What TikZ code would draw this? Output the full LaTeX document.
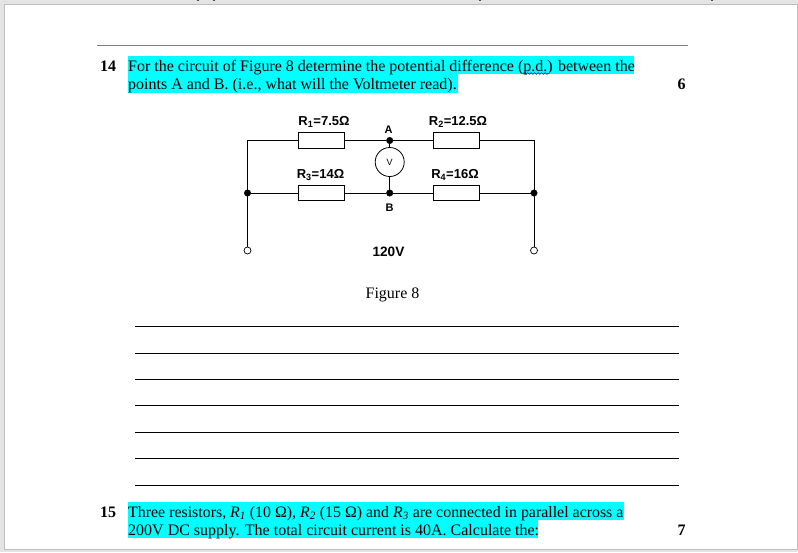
\documentclass[tikz,border=0pt]{standalone}
\usepackage{fontspec}
\setmainfont{Liberation Serif}
\newfontfamily\circfont{Liberation Sans}
\usetikzlibrary{decorations.pathmorphing}
\definecolor{hl}{HTML}{00FFFF}
\definecolor{pagegrey}{HTML}{E4E4E4}
\definecolor{edgegrey}{HTML}{BEBEBE}
\tikzset{
  wire/.style={draw=black,line width=0.9pt},
  resistor/.style={draw=black,line width=0.9pt,fill=white,minimum width=46pt,minimum height=15.5pt,inner sep=0pt},
  junction/.style={circle,fill=black,draw=black,inner sep=0pt,minimum size=6.5pt},
  terminal/.style={circle,fill=white,draw=black,line width=0.7pt,inner sep=0pt,minimum size=7pt},
  meter/.style={circle,fill=white,draw=black,line width=0.8pt,inner sep=0pt,minimum size=29pt,font=\circfont\fontsize{9}{10}\selectfont},
  doctext/.style={anchor=base west,inner sep=0pt,font=\fontsize{16}{18}\selectfont},
  docbold/.style={anchor=base west,inner sep=0pt,font=\bfseries\fontsize{16}{18}\selectfont},
  circlabel/.style={anchor=base,inner sep=0pt,font=\circfont\bfseries\fontsize{13}{14}\selectfont},
  answerline/.style={draw=black,line width=1pt},
  hlbar/.style={fill=hl,draw=none}
}
\begin{document}
\begin{tikzpicture}[x=1pt,y=-1pt]
\useasboundingbox (0,0) rectangle (798,552);
\fill[pagegrey] (0,0) rectangle (798,552);
\fill[white,draw=edgegrey,line width=0.8pt] (4,4.5) rectangle (797,549);
% clipped marks at the very top
\foreach \xa in {198,214,480,712} \fill[black!70] (\xa-1,0) rectangle (\xa+1,1.2);
% rule
\draw[gray,line width=1pt] (97,45.5) -- (688,45.5);
% highlights
\fill[hlbar] (128,56) rectangle (634,74);
\fill[hlbar] (128,74) rectangle (458,92.5);
\fill[hlbar] (128,502) rectangle (624,520);
\fill[hlbar] (128,520) rectangle (538,538);
% question 14
\node[docbold] (q14) at (100,71) {14};
\node[doctext] (l1) at (128,71) {For the circuit of Figure 8 determine the potential difference (p.d.) between the};
\node[doctext] (l2) at (128,89) {points A and B. (i.e., what will the Voltmeter read).};
\node[docbold] (m6) at (677.5,89) {6};
\draw[blue!70!black,line width=0.6pt,decorate,decoration={snake,amplitude=0.8pt,segment length=3.5pt}] (523,73.5) -- (548,73.5);
% circuit
\node[resistor] (r1) at (321,140.5) {};
\node[resistor] (r2) at (456,140.5) {};
\node[resistor] (r3) at (321,193) {};
\node[resistor] (r4) at (456,193) {};
\node[junction] (a) at (389.7,140.5) {};
\node[junction] (b) at (389.7,193) {};
\node[junction] (jl) at (247.5,193) {};
\node[junction] (jr) at (534,193) {};
\node[terminal] (tl) at (247.5,250.5) {};
\node[terminal] (tr) at (534,250.5) {};
\node[meter] (v) at (389.7,162) {V};
\draw[wire] (jl) |- (r1);
\draw[wire] (r1) -- (a);
\draw[wire] (a) -- (r2);
\draw[wire] (r2) -| (jr);
\draw[wire] (jl) -- (r3);
\draw[wire] (r3) -- (b);
\draw[wire] (b) -- (r4);
\draw[wire] (r4) -- (jr);
\draw[wire] (a) -- (v);
\draw[wire] (v) -- (b);
\draw[wire] (jl) -- (tl);
\draw[wire] (jr) -- (tr);
\node[circlabel] (lr1) at (324,125) {R\textsubscript{1}=7.5Ω};
\node[circlabel] (lr2) at (458,125) {R\textsubscript{2}=12.5Ω};
\node[circlabel] (lr3) at (320.5,178) {R\textsubscript{3}=14Ω};
\node[circlabel] (lr4) at (455,178) {R\textsubscript{4}=16Ω};
\node[circlabel,font=\circfont\bfseries\fontsize{11}{12}\selectfont] (la) at (388.5,133) {A};
\node[circlabel,font=\circfont\bfseries\fontsize{11}{12}\selectfont] (lb) at (389.5,211) {B};
\node[circlabel,font=\circfont\bfseries\fontsize{13.6}{14}\selectfont] (lv) at (388.5,256.5) {120V};
\node[anchor=base,inner sep=0pt,font=\fontsize{16}{18}\selectfont] (fig) at (392.5,298) {Figure 8};
% answer lines
\foreach \ya in {326,353,379,405,432,458,485} \draw[answerline] (135,\ya) -- (679,\ya);
% question 15
\node[docbold] (q15) at (100,517) {15};
\node[doctext,font=\fontsize{15.9}{18}\selectfont] (l3) at (128,517) {Three resistors, \textit{R\textsubscript{1}} (10 Ω), \textit{R\textsubscript{2}} (15 Ω) and \textit{R\textsubscript{3}} are connected in parallel across a};
\node[doctext] (l4) at (128,535.5) {200V DC supply. The total circuit current is 40A. Calculate the:};
\node[docbold] (m7) at (677.5,535.5) {7};
\end{tikzpicture}
\end{document}
